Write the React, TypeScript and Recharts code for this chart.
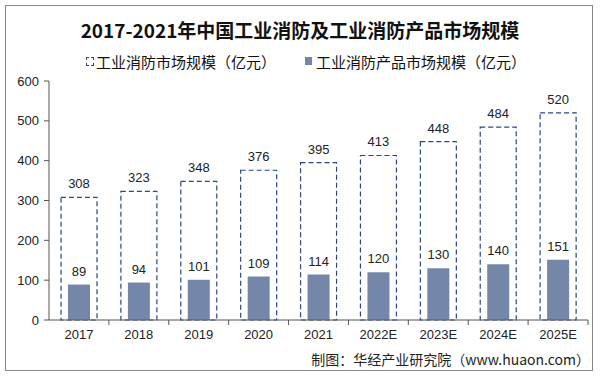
import { Bar, ComposedChart, XAxis, YAxis, LabelList } from 'recharts';

const years = ['2017', '2018', '2019', '2020', '2021', '2022E', '2023E', '2024E', '2025E'];
const marketSize = [308, 323, 348, 376, 395, 413, 448, 484, 520];
const productSize = [89, 94, 101, 109, 114, 120, 130, 140, 151];
const yTicks = [0, 100, 200, 300, 400, 500, 600];

const data = years.map((year, i) => ({
  year,
  market: marketSize[i],
  product: productSize[i],
}));

const FONT = '"Liberation Sans", Arial, "Noto Sans CJK SC", sans-serif';
const CJK = '"Noto Sans CJK SC", sans-serif';
const DASH = '#2a4688';
const SOLID = '#7587a8';

const XTick = (props: any) => {
  const { x, y, payload } = props;
  const half = 29.95;
  return (
    <g>
      {payload.index > 0 && (
        <line x1={x - half} y1={y} x2={x - half} y2={y + 5} stroke="#555" />
      )}
      {payload.index === years.length - 1 && (
        <line x1={x + half} y1={y} x2={x + half} y2={y + 5} stroke="#555" />
      )}
      <text x={x} y={y + 19} textAnchor="middle" fontSize={13} fill="#222" fontFamily={FONT}>
        {payload.value}
      </text>
    </g>
  );
};

export default function App() {
  return (
    <div style={{ position: 'absolute', left: 0, top: 0, width: 600, height: 378, background: '#fff' }}>
      <div
        style={{
          position: 'absolute', left: 5, top: 5, width: 588, height: 366,
          border: '1px solid #888', boxSizing: 'border-box',
        }}
      />
      <div
        style={{
          position: 'absolute', left: 0, top: 16, width: 600, textAlign: 'center',
          fontFamily: '"Noto Sans CJK SC", serif', fontWeight: 700, fontSize: 19, color: '#111',
        }}
      >
        2017-2021年中国工业消防及工业消防产品市场规模
      </div>
      {/* legend */}
      <div style={{ position: 'absolute', left: 0, top: 52, width: 600, height: 20, fontFamily: CJK, fontSize: 15, color: '#111' }}>
        <div style={{ position: 'absolute', left: 86, top: 5, width: 6, height: 7, border: `1px dashed ${DASH}` }} />
        <span style={{ position: 'absolute', left: 96, top: -1 }}>工业消防市场规模（亿元）</span>
        <div style={{ position: 'absolute', left: 305, top: 5, width: 7, height: 8, background: SOLID }} />
        <span style={{ position: 'absolute', left: 316, top: -1 }}>工业消防产品市场规模（亿元）</span>
      </div>
      <div style={{ position: 'absolute', left: 0, top: 0 }}>
        <ComposedChart
          width={600}
          height={378}
          data={data}
          margin={{ top: 81, right: 12, bottom: 28, left: 5 }}
          barCategoryGap={0}
        >
          <XAxis
            dataKey="year"
            xAxisId="main"
            height={30}
            axisLine={{ stroke: '#555' }}
            tickLine={false}
            tickSize={0}
            tickMargin={0}
            tick={<XTick />}
            interval={0}
          />
          <XAxis dataKey="year" xAxisId="inner" height={0} hide />
          <YAxis
            domain={[0, 600]}
            ticks={yTicks}
            width={44}
            axisLine={{ stroke: '#555' }}
            tickLine={{ stroke: '#555' }}
            tickSize={5}
            tickMargin={5}
            tick={{ fontSize: 13, fill: '#222', fontFamily: FONT }}
          />
          <Bar
            dataKey="market"
            xAxisId="main"
            barSize={36}
            fill="#fff"
            stroke={DASH}
            strokeWidth={1.2}
            strokeDasharray="5 3"
            isAnimationActive={false}
          >
            <LabelList dataKey="market" position="top" offset={9} fontSize={13} fill="#222" fontFamily={FONT} />
          </Bar>
          <Bar
            dataKey="product"
            xAxisId="inner"
            barSize={22}
            fill={SOLID}
            isAnimationActive={false}
          >
            <LabelList dataKey="product" position="top" offset={9} fontSize={13} fill="#222" fontFamily={FONT} />
          </Bar>
        </ComposedChart>
      </div>
      <div
        style={{
          position: 'absolute', right: 10, top: 349, fontFamily: CJK, fontSize: 14, color: '#222',
        }}
      >
        制图：华经产业研究院（www.huaon.com）
      </div>
    </div>
  );
}
